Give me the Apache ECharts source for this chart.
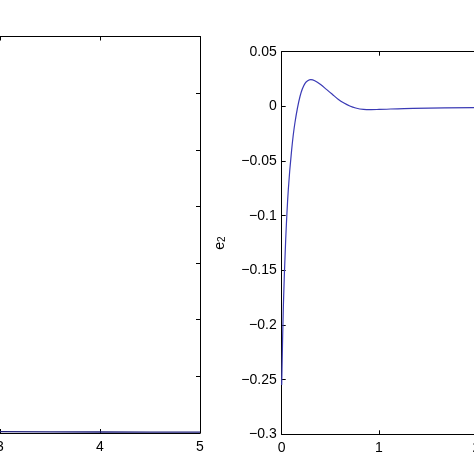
<!DOCTYPE html>
<html>
<head>
<meta charset="utf-8">
<script src="https://cdn.jsdelivr.net/npm/echarts@6/dist/echarts.min.js"></script>
<style>html,body{margin:0;padding:0;background:#fff}#c{width:474px;height:474px}</style>
</head>
<body>
<div id="c"></div>
<script>
// Left subplot (e_1): visible tail of the curve
var e1Time = [3, 3.5, 4, 4.5, 5];
var e1Values = [0.0012, 0.001, 0.0009, 0.0008, 0.0008];
// Right subplot (e_2)
var e2Time = [0, 0.017, 0.041, 0.068, 0.102, 0.136, 0.188, 0.24, 0.30, 0.34, 0.40, 0.46, 0.52, 0.58, 0.64, 0.70, 0.76, 0.84, 0.92, 1.0, 1.35, 2.0, 3.0, 5.0];
var e2Values = [-0.255, -0.183, -0.122, -0.076, -0.040, -0.015, 0.009, 0.021, 0.0245, 0.0235, 0.020, 0.0155, 0.011, 0.0065, 0.003, 0.0003, -0.0015, -0.0028, -0.003, -0.0028, -0.0018, -0.0012, -0.0008, -0.0005];
var xTicks = [0, 1, 2, 3, 4, 5];
var e2Ticks = [-0.3, -0.25, -0.2, -0.15, -0.1, -0.05, 0, 0.05];

function pairs(xs, ys) { return xs.map(function (x, i) { return [x, ys[i]]; }); }
function fmt(v) {
  var r = parseFloat(Number(v).toFixed(2));
  if (r === 0) return '0';
  return String(r).replace('-', '\u2212');
}
var font = 'Liberation Sans, Arial, Helvetica, sans-serif';
var axLine = { show: true, onZero: false, lineStyle: { color: '#000', width: 1 } };
var tickIn = { show: true, inside: true, length: 4, lineStyle: { color: '#000', width: 1 } };
var lbl = { color: '#000', fontSize: 14, fontFamily: font };

var chart = echarts.init(document.getElementById('c'), null, { renderer: 'canvas' });
chart.setOption({
  backgroundColor: '#fff',
  animation: false,
  grid: [
    { left: -300, top: 36.5, width: 500, height: 396.5, outerBoundsMode: 'none', containLabel: false },
    { left: 281.7, top: 51.7, width: 486.5, height: 382.6, outerBoundsMode: 'none', containLabel: false }
  ],
  xAxis: [
    { gridIndex: 0, type: 'value', min: 0, max: 5, interval: 1, position: 'bottom',
      axisLine: axLine, axisTick: tickIn, splitLine: { show: false },
      axisLabel: Object.assign({ margin: 7 }, lbl) },
    { gridIndex: 0, type: 'value', min: 0, max: 5, interval: 1, position: 'top',
      axisLine: axLine, axisTick: tickIn, splitLine: { show: false }, axisLabel: { show: false } },
    { gridIndex: 1, type: 'value', min: 0, max: 5, interval: 1, position: 'bottom',
      axisLine: axLine, axisTick: tickIn, splitLine: { show: false },
      axisLabel: Object.assign({ margin: 7 }, lbl) },
    { gridIndex: 1, type: 'value', min: 0, max: 5, interval: 1, position: 'top',
      axisLine: axLine, axisTick: tickIn, splitLine: { show: false }, axisLabel: { show: false } }
  ],
  yAxis: [
    { gridIndex: 0, type: 'value', min: 0, max: 0.35, interval: 0.05, position: 'left',
      axisLine: axLine, axisTick: tickIn, splitLine: { show: false }, axisLabel: { show: false } },
    { gridIndex: 0, type: 'value', min: 0, max: 0.35, interval: 0.05, position: 'right',
      axisLine: axLine, axisTick: tickIn, splitLine: { show: false }, axisLabel: { show: false } },
    { gridIndex: 1, type: 'value', min: -0.3, max: 0.05, interval: 0.05, position: 'left',
      axisLine: axLine, axisTick: tickIn, splitLine: { show: false },
      axisLabel: Object.assign({ margin: 5, formatter: fmt }, lbl),
      name: '{e|e}{s|2}', nameLocation: 'middle', nameGap: 54,
      nameTextStyle: { rich: {
        e: { fontSize: 14, fontFamily: font, color: '#000' },
        s: { fontSize: 10, fontFamily: font, color: '#000', verticalAlign: 'bottom', padding: [6, 0, 0, 0] }
      } } },
    { gridIndex: 1, type: 'value', min: -0.3, max: 0.05, interval: 0.05, position: 'right',
      axisLine: axLine, axisTick: tickIn, splitLine: { show: false }, axisLabel: { show: false } }
  ],
  series: [
    { type: 'line', xAxisIndex: 0, yAxisIndex: 0, data: pairs(e1Time, e1Values),
      showSymbol: false, lineStyle: { color: '#1f1f7a', width: 1.3 } },
    { type: 'line', xAxisIndex: 2, yAxisIndex: 2, data: pairs(e2Time, e2Values),
      showSymbol: false, smooth: 0.3, lineStyle: { color: '#3a3ab5', width: 1.2 } }
  ]
});
</script>
</body>
</html>
